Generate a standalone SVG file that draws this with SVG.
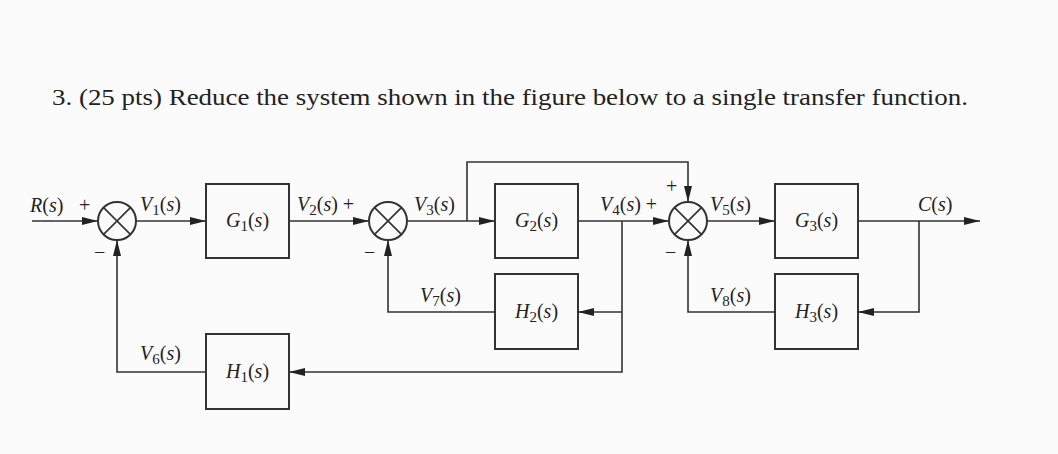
<svg xmlns="http://www.w3.org/2000/svg" width="1058" height="454" viewBox="0 0 1058 454" font-family="'Liberation Serif','Times New Roman','DejaVu Serif',serif">
<defs>
<marker id="a" markerWidth="16" markerHeight="8" refX="16" refY="4" orient="auto" markerUnits="userSpaceOnUse"><path d="M0,0 L16,4 L0,8 Z" fill="#222"/></marker>
</defs>
<style>
.b{fill:none;stroke:#333;stroke-width:2}
.l{fill:none;stroke:#333;stroke-width:1.6}
text{font-family:'Liberation Serif','Times New Roman','DejaVu Serif',serif;font-size:20px;fill:#222}
.i{font-style:italic}
.s{font-size:15px}
</style>
<rect width="1058" height="454" fill="#fbfbfb"/>
<text x="52" y="105" textLength="916" lengthAdjust="spacingAndGlyphs" style="font-size:24px">3. (25 pts) Reduce the system shown in the figure below to a single transfer function.</text>
<g id="connectors" class="l">
<line x1="32" y1="221" x2="98" y2="221" marker-end="url(#a)"/>
<line x1="136" y1="221" x2="206" y2="221" marker-end="url(#a)"/>
<line x1="289" y1="221" x2="369" y2="221" marker-end="url(#a)"/>
<line x1="407" y1="221" x2="495" y2="221" marker-end="url(#a)"/>
<line x1="578" y1="221" x2="669" y2="221" marker-end="url(#a)"/>
<line x1="707" y1="221" x2="775" y2="221" marker-end="url(#a)"/>
<line x1="858" y1="221" x2="980" y2="221" marker-end="url(#a)"/>
<polyline points="467,221 467,162 688,162 688,202" marker-end="url(#a)"/>
<polyline points="622,221 622,372 289,372" marker-end="url(#a)"/>
<polyline points="622,312 578,312" marker-end="url(#a)"/>
<polyline points="495,312 388,312 388,240" marker-end="url(#a)"/>
<polyline points="206,372 117,372 117,240" marker-end="url(#a)"/>
<polyline points="919,221 919,312 858,312" marker-end="url(#a)"/>
<polyline points="775,312 688,312 688,240" marker-end="url(#a)"/>
</g>
<g id="sum1"><circle cx="117" cy="221" r="19" class="b"/><path class="l" d="M103.6,207.6 L130.4,234.4 M130.4,207.6 L103.6,234.4"/></g>
<g id="sum2"><circle cx="388" cy="221" r="19" class="b"/><path class="l" d="M374.6,207.6 L401.4,234.4 M401.4,207.6 L374.6,234.4"/></g>
<g id="sum3"><circle cx="688" cy="221" r="19" class="b"/><path class="l" d="M674.6,207.6 L701.4,234.4 M701.4,207.6 L674.6,234.4"/></g>
<g id="G1"><rect x="206" y="184" width="83" height="74" class="b"/><text x="247.5" y="227" text-anchor="middle"><tspan class="i">G</tspan><tspan class="s" dy="4">1</tspan><tspan dy="-4">(</tspan><tspan class="i">s</tspan>)</text></g>
<g id="G2"><rect x="495" y="184" width="83" height="74" class="b"/><text x="536.5" y="227" text-anchor="middle"><tspan class="i">G</tspan><tspan class="s" dy="4">2</tspan><tspan dy="-4">(</tspan><tspan class="i">s</tspan>)</text></g>
<g id="G3"><rect x="775" y="184" width="83" height="74" class="b"/><text x="816.5" y="227" text-anchor="middle"><tspan class="i">G</tspan><tspan class="s" dy="4">3</tspan><tspan dy="-4">(</tspan><tspan class="i">s</tspan>)</text></g>
<g id="H2"><rect x="495" y="274" width="83" height="75" class="b"/><text x="536.5" y="318" text-anchor="middle"><tspan class="i">H</tspan><tspan class="s" dy="4">2</tspan><tspan dy="-4">(</tspan><tspan class="i">s</tspan>)</text></g>
<g id="H3"><rect x="775" y="274" width="83" height="75" class="b"/><text x="816.5" y="318" text-anchor="middle"><tspan class="i">H</tspan><tspan class="s" dy="4">3</tspan><tspan dy="-4">(</tspan><tspan class="i">s</tspan>)</text></g>
<g id="H1"><rect x="206" y="334" width="83" height="75" class="b"/><text x="247.5" y="378" text-anchor="middle"><tspan class="i">H</tspan><tspan class="s" dy="4">1</tspan><tspan dy="-4">(</tspan><tspan class="i">s</tspan>)</text></g>
<g id="labels">
<text x="30" y="212"><tspan class="i">R</tspan>(<tspan class="i">s</tspan>)</text>
<text x="79" y="212">+</text>
<text x="94" y="259">−</text>
<text x="140" y="211"><tspan class="i">V</tspan><tspan class="s" dy="4">1</tspan><tspan dy="-4">(</tspan><tspan class="i">s</tspan>)</text>
<text x="297" y="211"><tspan class="i">V</tspan><tspan class="s" dy="4">2</tspan><tspan dy="-4">(</tspan><tspan class="i">s</tspan>) +</text>
<text x="364" y="259">−</text>
<text x="414" y="211"><tspan class="i">V</tspan><tspan class="s" dy="4">3</tspan><tspan dy="-4">(</tspan><tspan class="i">s</tspan>)</text>
<text x="600" y="211"><tspan class="i">V</tspan><tspan class="s" dy="4">4</tspan><tspan dy="-4">(</tspan><tspan class="i">s</tspan>) +</text>
<text x="666" y="193">+</text>
<text x="665" y="259">−</text>
<text x="710" y="211"><tspan class="i">V</tspan><tspan class="s" dy="4">5</tspan><tspan dy="-4">(</tspan><tspan class="i">s</tspan>)</text>
<text x="918" y="211"><tspan class="i">C</tspan>(<tspan class="i">s</tspan>)</text>
<text x="420" y="302"><tspan class="i">V</tspan><tspan class="s" dy="4">7</tspan><tspan dy="-4">(</tspan><tspan class="i">s</tspan>)</text>
<text x="710" y="302"><tspan class="i">V</tspan><tspan class="s" dy="4">8</tspan><tspan dy="-4">(</tspan><tspan class="i">s</tspan>)</text>
<text x="140" y="360"><tspan class="i">V</tspan><tspan class="s" dy="4">6</tspan><tspan dy="-4">(</tspan><tspan class="i">s</tspan>)</text>
</g>
</svg>
